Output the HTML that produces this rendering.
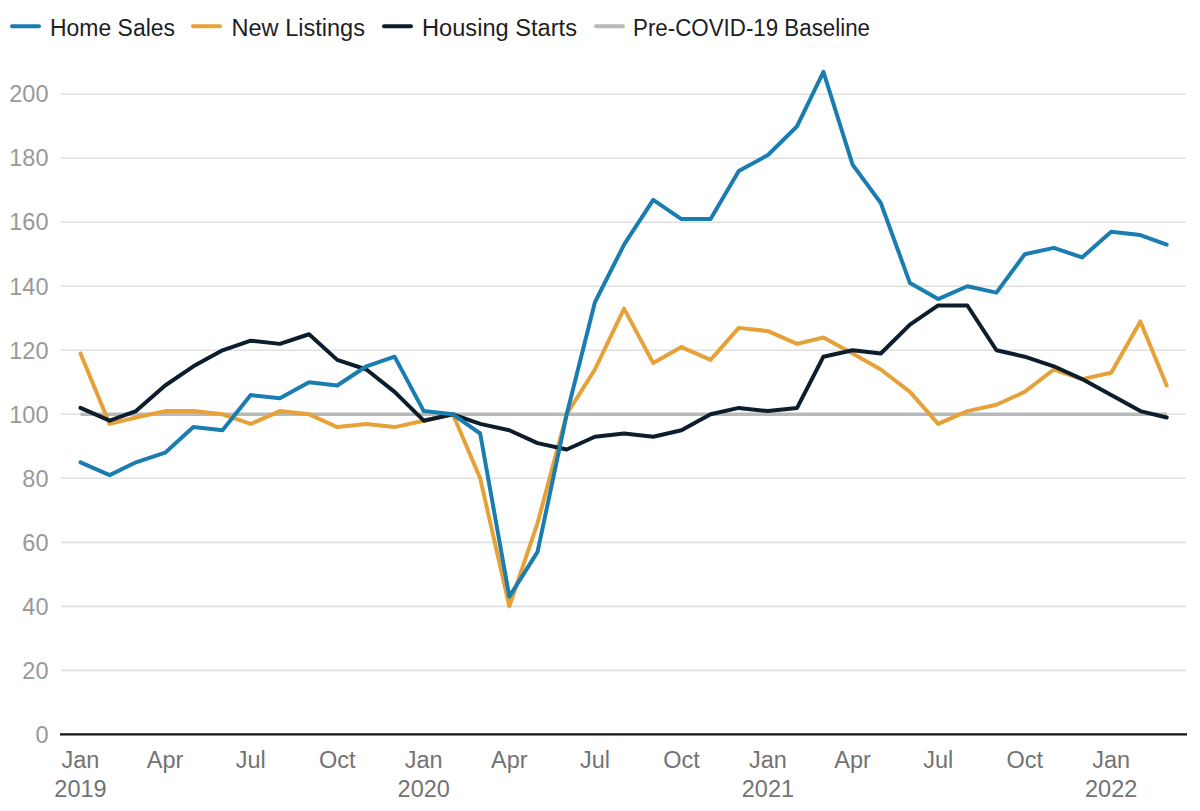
<!DOCTYPE html>
<html><head><meta charset="utf-8"><style>
html,body{margin:0;padding:0;background:#fff;width:1200px;height:811px;overflow:hidden}
svg{display:block}
text{font-family:"Liberation Sans",sans-serif}
.yl{font-size:23.5px;fill:#999999}
.xl{font-size:23.5px;fill:#737373}
.lg{font-size:23.5px;fill:#1e1e1e}
</style></head><body>
<svg width="1200" height="811" viewBox="0 0 1200 811">
<rect width="1200" height="811" fill="#fff"/>
<line x1="61" x2="1186" y1="670.38" y2="670.38" stroke="#e0e0e0" stroke-width="1.6"/>
<line x1="61" x2="1186" y1="606.36" y2="606.36" stroke="#e0e0e0" stroke-width="1.6"/>
<line x1="61" x2="1186" y1="542.3399999999999" y2="542.3399999999999" stroke="#e0e0e0" stroke-width="1.6"/>
<line x1="61" x2="1186" y1="478.32" y2="478.32" stroke="#e0e0e0" stroke-width="1.6"/>
<line x1="61" x2="1186" y1="414.29999999999995" y2="414.29999999999995" stroke="#e0e0e0" stroke-width="1.6"/>
<line x1="61" x2="1186" y1="350.28" y2="350.28" stroke="#e0e0e0" stroke-width="1.6"/>
<line x1="61" x2="1186" y1="286.26" y2="286.26" stroke="#e0e0e0" stroke-width="1.6"/>
<line x1="61" x2="1186" y1="222.24" y2="222.24" stroke="#e0e0e0" stroke-width="1.6"/>
<line x1="61" x2="1186" y1="158.2199999999999" y2="158.2199999999999" stroke="#e0e0e0" stroke-width="1.6"/>
<line x1="61" x2="1186" y1="94.19999999999993" y2="94.19999999999993" stroke="#e0e0e0" stroke-width="1.6"/>

<line x1="80.50" x2="1166.68" y1="414.29999999999995" y2="414.29999999999995" stroke="#b9b9b9" stroke-width="3.5"/>
<line x1="60" x2="1187" y1="734.3" y2="734.3" stroke="#141414" stroke-width="2.2"/>
<text x="48.5" y="742.6" text-anchor="end" class="yl">0</text>
<text x="48.5" y="678.6" text-anchor="end" class="yl">20</text>
<text x="48.5" y="614.6" text-anchor="end" class="yl">40</text>
<text x="48.5" y="550.5" text-anchor="end" class="yl">60</text>
<text x="48.5" y="486.5" text-anchor="end" class="yl">80</text>
<text x="48.5" y="422.5" text-anchor="end" class="yl">100</text>
<text x="48.5" y="358.5" text-anchor="end" class="yl">120</text>
<text x="48.5" y="294.5" text-anchor="end" class="yl">140</text>
<text x="48.5" y="230.4" text-anchor="end" class="yl">160</text>
<text x="48.5" y="166.4" text-anchor="end" class="yl">180</text>
<text x="48.5" y="102.4" text-anchor="end" class="yl">200</text>

<text x="80.50" y="768.2" text-anchor="middle" class="xl">Jan</text>
<text x="80.50" y="797.4" text-anchor="middle" class="xl">2019</text>
<text x="165.14" y="768.2" text-anchor="middle" class="xl">Apr</text>
<text x="250.72" y="768.2" text-anchor="middle" class="xl">Jul</text>
<text x="337.23" y="768.2" text-anchor="middle" class="xl">Oct</text>
<text x="423.75" y="768.2" text-anchor="middle" class="xl">Jan</text>
<text x="423.75" y="797.4" text-anchor="middle" class="xl">2020</text>
<text x="509.33" y="768.2" text-anchor="middle" class="xl">Apr</text>
<text x="594.91" y="768.2" text-anchor="middle" class="xl">Jul</text>
<text x="681.43" y="768.2" text-anchor="middle" class="xl">Oct</text>
<text x="767.95" y="768.2" text-anchor="middle" class="xl">Jan</text>
<text x="767.95" y="797.4" text-anchor="middle" class="xl">2021</text>
<text x="852.58" y="768.2" text-anchor="middle" class="xl">Apr</text>
<text x="938.16" y="768.2" text-anchor="middle" class="xl">Jul</text>
<text x="1024.68" y="768.2" text-anchor="middle" class="xl">Oct</text>
<text x="1111.20" y="768.2" text-anchor="middle" class="xl">Jan</text>
<text x="1111.20" y="797.4" text-anchor="middle" class="xl">2022</text>

<g fill="none" stroke-width="4" stroke-linejoin="round" stroke-linecap="round">
<path d="M80.50,353.48 L109.65,423.90 L135.98,417.50 L165.14,411.10 L193.35,411.10 L222.50,414.30 L250.72,423.90 L279.87,411.10 L309.02,414.30 L337.23,427.10 L366.39,423.90 L394.60,427.10 L423.75,420.70 L452.91,414.30 L480.18,478.32 L509.33,606.36 L537.54,523.13 L566.70,414.30 L594.91,369.49 L624.06,308.67 L653.22,363.08 L681.43,347.08 L710.58,359.88 L738.79,327.87 L767.95,331.07 L797.10,343.88 L823.43,337.48 L852.58,353.48 L880.80,369.49 L909.95,391.89 L938.16,423.90 L967.32,411.10 L996.47,404.70 L1024.68,391.89 L1053.83,369.49 L1082.05,379.09 L1111.20,372.69 L1140.35,321.47 L1166.68,385.49" stroke="#e6a238"/>
<path d="M80.50,407.90 L109.65,420.70 L135.98,411.10 L165.14,385.49 L193.35,366.28 L222.50,350.28 L250.72,340.68 L279.87,343.88 L309.02,334.27 L337.23,359.88 L366.39,369.49 L394.60,391.89 L423.75,420.70 L452.91,414.30 L480.18,423.90 L509.33,430.30 L537.54,443.11 L566.70,449.51 L594.91,436.71 L624.06,433.51 L653.22,436.71 L681.43,430.30 L710.58,414.30 L738.79,407.90 L767.95,411.10 L797.10,407.90 L823.43,356.68 L852.58,350.28 L880.80,353.48 L909.95,324.67 L938.16,305.47 L967.32,305.47 L996.47,350.28 L1024.68,356.68 L1053.83,366.28 L1082.05,379.09 L1111.20,395.09 L1140.35,411.10 L1166.68,417.50" stroke="#0c1d2e"/>
<path d="M80.50,462.31 L109.65,475.12 L135.98,462.31 L165.14,452.71 L193.35,427.10 L222.50,430.30 L250.72,395.09 L279.87,398.29 L309.02,382.29 L337.23,385.49 L366.39,366.28 L394.60,356.68 L423.75,411.10 L452.91,414.30 L480.18,433.51 L509.33,596.76 L537.54,551.94 L566.70,414.30 L594.91,302.26 L624.06,244.65 L653.22,199.83 L681.43,219.04 L710.58,219.04 L738.79,171.02 L767.95,155.02 L797.10,126.21 L823.43,71.79 L852.58,164.62 L880.80,203.03 L909.95,283.06 L938.16,299.06 L967.32,286.26 L996.47,292.66 L1024.68,254.25 L1053.83,247.85 L1082.05,257.45 L1111.20,231.84 L1140.35,235.04 L1166.68,244.65" stroke="#1a7db0"/>
</g>
<g stroke-width="4" stroke-linecap="round">
<line x1="12" x2="39" y1="26.2" y2="26.2" stroke="#1a7db0"/>
<line x1="193" x2="220" y1="26.2" y2="26.2" stroke="#e6a238"/>
<line x1="384" x2="411" y1="26.2" y2="26.2" stroke="#0c1d2e"/>
<line x1="596" x2="623" y1="26.2" y2="26.2" stroke="#b9b9b9"/>
</g>
<text x="50" y="35.8" class="lg" textLength="125" lengthAdjust="spacingAndGlyphs">Home Sales</text>
<text x="231.5" y="35.8" class="lg" textLength="133.5" lengthAdjust="spacingAndGlyphs">New Listings</text>
<text x="422" y="35.8" class="lg" textLength="155" lengthAdjust="spacingAndGlyphs">Housing Starts</text>
<text x="633" y="35.8" class="lg" textLength="237" lengthAdjust="spacingAndGlyphs">Pre-COVID-19 Baseline</text>
</svg>
</body></html>
